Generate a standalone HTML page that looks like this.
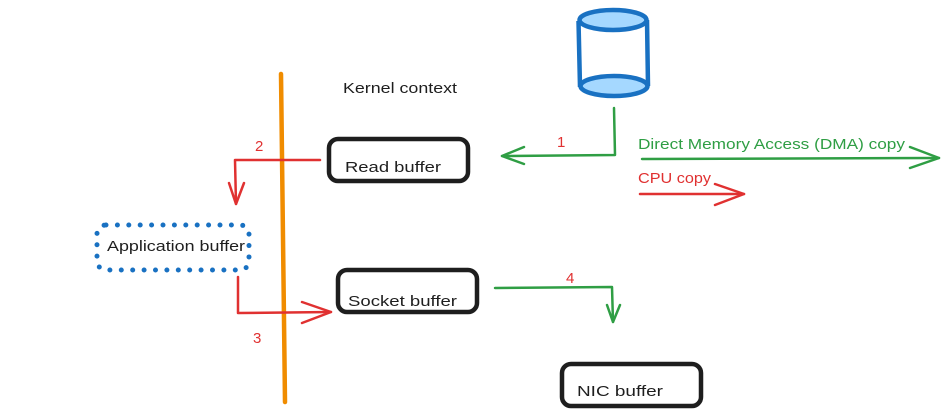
<!DOCTYPE html>
<html>
<head>
<meta charset="utf-8">
<style>
html,body{margin:0;padding:0;background:#fff;width:948px;height:416px;overflow:hidden}
svg{display:block}
text{font-family:"Liberation Sans",sans-serif;font-size:15px}
</style>
</head>
<body>
<svg width="948" height="416" viewBox="0 0 948 416" xmlns="http://www.w3.org/2000/svg">
<rect width="948" height="416" fill="#fff"/>

<!-- cylinder -->
<g stroke="#1971c2" stroke-width="4.5" fill="none">
  <path d="M578.5 21 L580 87 M647 20 L648 86"/>
  <ellipse cx="613" cy="20" rx="33.5" ry="10" fill="#a5d8ff"/>
  <ellipse cx="614" cy="86" rx="33.5" ry="10" fill="#a5d8ff"/>
</g>

<!-- divider -->
<path d="M281 74 L285 402" stroke="#f08c00" stroke-width="4.5" stroke-linecap="round" fill="none"/>

<!-- boxes -->
<g fill="none" stroke="#1e1e1e" stroke-width="4.5">
  <rect x="329" y="139" width="139" height="42" rx="9"/>
  <rect x="338" y="270" width="139" height="42" rx="9"/>
  <rect x="562" y="364" width="139" height="42" rx="9"/>
</g>
<rect x="97" y="225" width="152" height="45" rx="9" fill="none" stroke="#1971c2" stroke-width="5" stroke-dasharray="0 11.4" stroke-linecap="round"/>

<!-- green connectors -->
<g fill="none" stroke="#2f9e44" stroke-width="2.5" stroke-linecap="round" stroke-linejoin="round">
  <path d="M614 108 L615 155 L502 156"/>
  <path d="M524 147 L502 156 L524 164"/>
  <path d="M642 159 L939 158"/>
  <path d="M910 147 L939 158 L910 168"/>
  <path d="M495 288 L612 287 L613 322"/>
  <path d="M607 305 L613 322 L620 305"/>
</g>

<!-- red connectors -->
<g fill="none" stroke="#e03131" stroke-width="2.5" stroke-linecap="round" stroke-linejoin="round">
  <path d="M640 194 L744 194"/>
  <path d="M715 184 L744 194 L715 205"/>
  <path d="M320 160 L235 160 L236 204"/>
  <path d="M229 183 L236 204 L244 183"/>
  <path d="M238 277 L238 313 L331 312"/>
  <path d="M302 302 L331 312 L302 323"/>
</g>

<!-- labels -->
<g fill="#1e1e1e">
  <text x="343" y="93" textLength="114" lengthAdjust="spacingAndGlyphs">Kernel context</text>
  <text x="345" y="172" textLength="96" lengthAdjust="spacingAndGlyphs">Read buffer</text>
  <text x="107" y="251" textLength="138" lengthAdjust="spacingAndGlyphs">Application buffer</text>
  <text x="348" y="306" textLength="109" lengthAdjust="spacingAndGlyphs">Socket buffer</text>
  <text x="577" y="396" textLength="86" lengthAdjust="spacingAndGlyphs">NIC buffer</text>
</g>
<text x="638" y="149" fill="#2f9e44" textLength="267" lengthAdjust="spacingAndGlyphs">Direct Memory Access (DMA) copy</text>
<g fill="#e03131">
  <text x="638" y="183" textLength="73" lengthAdjust="spacingAndGlyphs">CPU copy</text>
  <text x="557" y="147">1</text>
  <text x="255" y="151">2</text>
  <text x="253" y="343">3</text>
  <text x="566" y="283">4</text>
</g>
</svg>
</body>
</html>
